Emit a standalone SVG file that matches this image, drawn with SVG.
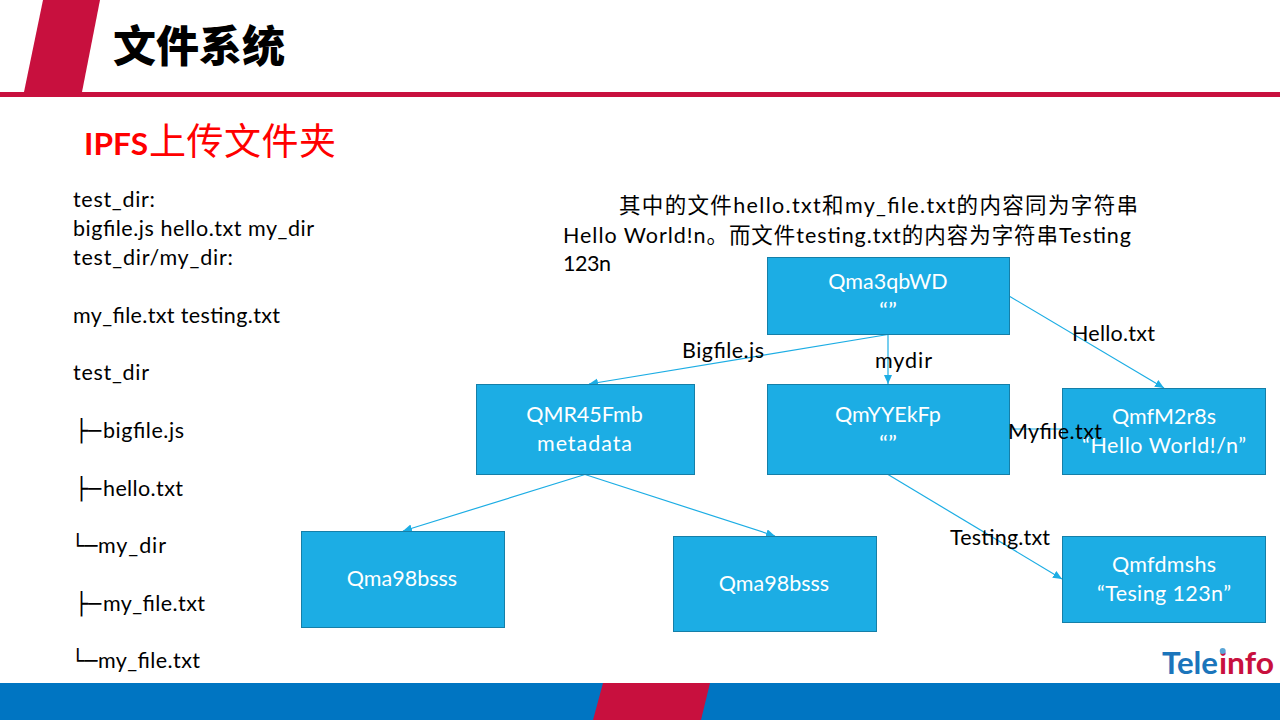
<svg xmlns="http://www.w3.org/2000/svg" width="1280" height="720" viewBox="0 0 1280 720">
<style>
text{font-family:Lato,"Noto Sans CJK SC",sans-serif;font-size:21.5px;fill:#000}
.n rect{fill:#1cade4;stroke:#157fa8;stroke-width:1}
.n text{fill:#fff;text-anchor:middle}
.c line{stroke:#1cade4;stroke-width:1.2;marker-end:url(#a)}
.c line.p{marker-end:none}
.logo{font-size:31px;font-weight:700}
.b{font-family:"DejaVu Sans Mono",monospace}
</style>
<defs><marker id="a" markerUnits="userSpaceOnUse" markerWidth="10" markerHeight="10" refX="9" refY="4" orient="auto"><path d="M0 0L9 4L0 8Z" fill="#1cade4"/></marker></defs>
<rect width="1280" height="720" fill="#fff"/>
<g id="header">
<polygon points="43,0 100,0 82,92 24,92" fill="#c8103e"/>
<rect x="0" y="92" width="1280" height="5" fill="#c8103e"/>
<text x="113" y="62" style="font-family:'Noto Sans CJK SC',sans-serif;font-size:43px;font-weight:900" textLength="172">文件系统</text>
</g>
<g id="subtitle">
<text y="155" style="font-family:'Noto Sans CJK SC',sans-serif;fill:#f00"><tspan x="84" style="font-family:Lato,sans-serif;font-size:31px;font-weight:700" textLength="64" lengthAdjust="spacingAndGlyphs">IPFS</tspan><tspan x="149" style="font-size:37px" textLength="187">上传文件夹</tspan></text>
</g>
<g id="tree">
<text x="73" y="207" textLength="82">test_dir:</text>
<text x="73" y="236" textLength="241">bigfile.js hello.txt my_dir</text>
<text x="73" y="265" textLength="160">test_dir/my_dir:</text>
<text x="73" y="323" textLength="207">my_file.txt testing.txt</text>
<text x="73" y="380" textLength="76">test_dir</text>
<text y="438"><tspan class="b" x="75.200">├─</tspan><tspan x="103" textLength="81">bigfile.js</tspan></text>
<text y="496"><tspan class="b" x="75.200">├─</tspan><tspan x="103" textLength="80">hello.txt</tspan></text>
<text y="553"><tspan class="b" x="71.500">└─</tspan><tspan x="98" textLength="68">my_dir</tspan></text>
<text y="611"><tspan class="b" x="75.200">├─</tspan><tspan x="103" textLength="102">my_file.txt</tspan></text>
<text y="668"><tspan class="b" x="71.500">└─</tspan><tspan x="98" textLength="102">my_file.txt</tspan></text>
</g>
<g id="desc">
<text x="619" y="213" textLength="519">其中的文件hello.txt和my_file.txt的内容同为字符串</text>
<text x="563" y="243" textLength="568">Hello World!n。而文件testing.txt的内容为字符串Testing</text>
<text x="563" y="271" textLength="48">123n</text>
</g>
<g id="connectors" class="c">
<line x1="888" y1="334.500" x2="589" y2="384"/>
<line x1="888" y1="334.500" x2="888" y2="384"/>
<line x1="1009" y1="296" x2="1164" y2="388"/>
<line x1="585" y1="474.500" x2="403" y2="531"/>
<line x1="585" y1="474.500" x2="775" y2="536"/>
<line x1="888" y1="474.500" x2="1062" y2="579"/>
<line class="p" x1="1009" y1="429" x2="1062" y2="429"/>
</g>
<g id="n1" class="n"><rect x="767.500" y="257.500" width="242" height="77"/><text x="888" y="289">Qma3qbWD</text><text x="888" y="318" textLength="18" lengthAdjust="spacingAndGlyphs">“”</text></g>
<g id="n2" class="n"><rect x="476.500" y="384.500" width="218" height="90"/><text x="584.500" y="422">QMR45Fmb</text><text x="584.500" y="451" textLength="95">metadata</text></g>
<g id="n3" class="n"><rect x="767.500" y="384.500" width="242" height="90"/><text x="888" y="422">QmYYEkFp</text><text x="888" y="451" textLength="18" lengthAdjust="spacingAndGlyphs">“”</text></g>
<g id="n4" class="n"><rect x="1062.500" y="388.500" width="203" height="86"/><text x="1164" y="424" textLength="104">QmfM2r8s</text><text x="1164" y="453" textLength="164">“Hello World!/n”</text></g>
<g id="n5" class="n"><rect x="301.500" y="531.500" width="203" height="96"/><text x="402" y="586">Qma98bsss</text></g>
<g id="n6" class="n"><rect x="673.500" y="536.500" width="203" height="95"/><text x="774" y="591">Qma98bsss</text></g>
<g id="n7" class="n"><rect x="1062.500" y="536.500" width="203" height="86"/><text x="1164" y="572" textLength="104">Qmfdmshs</text><text x="1164" y="601" textLength="134">“Tesing 123n”</text></g>
<g id="labels">
<text x="682" y="358" textLength="82">Bigfile.js</text>
<text x="875" y="368" textLength="57">mydir</text>
<text x="1072" y="341" textLength="83">Hello.txt</text>
<text x="1008" y="439" textLength="94">Myfile.txt</text>
<text x="950" y="545" textLength="100">Testing.txt</text>
</g>
<g id="logo">
<text class="logo" x="1162" y="674" style="fill:#1b75bb" textLength="56" lengthAdjust="spacingAndGlyphs">Tele</text>
<text class="logo" x="1219" y="674" style="fill:#c8103e" textLength="55" lengthAdjust="spacingAndGlyphs">info</text>
<circle cx="1222.700" cy="651" r="3" fill="#5aa5d6"/>
</g>
<g id="footer">
<rect x="0" y="683" width="1280" height="37" fill="#0075c2"/>
<polygon points="603,683 710,683 701,720 593,720" fill="#c8103e"/>
</g>
</svg>
